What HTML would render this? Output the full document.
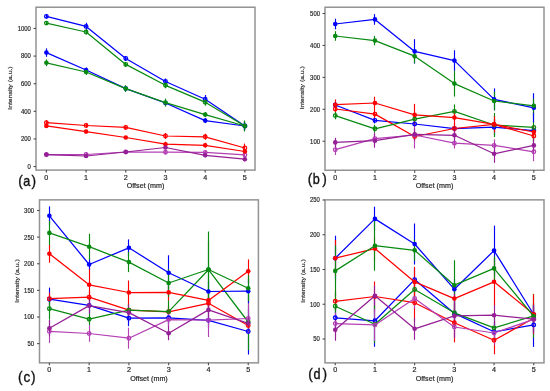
<!DOCTYPE html><html><head><meta charset="utf-8"><style>html,body{margin:0;padding:0;background:#fff;width:550px;height:391px;overflow:hidden}svg{display:block;will-change:transform}text{font-family:"Liberation Sans", sans-serif;stroke:#262626;stroke-width:0.18px}</style></head><body>
<svg width="550" height="391" viewBox="0 0 550 391">
<rect width="550" height="391" fill="#fff"/>
<g><line x1="46.5" y1="14.2" x2="46.5" y2="18.6" stroke="#0000ff" stroke-width="1.15"/><line x1="86.5" y1="22.8" x2="86.5" y2="30" stroke="#0000ff" stroke-width="1.15"/><line x1="125.5" y1="56" x2="125.5" y2="61" stroke="#0000ff" stroke-width="1.15"/><line x1="165.5" y1="78.5" x2="165.5" y2="84.5" stroke="#0000ff" stroke-width="1.15"/><line x1="205.5" y1="95" x2="205.5" y2="103.4" stroke="#0000ff" stroke-width="1.15"/><line x1="244.5" y1="122" x2="244.5" y2="130" stroke="#0000ff" stroke-width="1.15"/><line x1="46.5" y1="120.2" x2="46.5" y2="125.2" stroke="#ff0000" stroke-width="1.15"/><line x1="86.5" y1="123" x2="86.5" y2="128" stroke="#ff0000" stroke-width="1.15"/><line x1="125.5" y1="124.9" x2="125.5" y2="129.9" stroke="#ff0000" stroke-width="1.15"/><line x1="165.5" y1="133" x2="165.5" y2="139" stroke="#ff0000" stroke-width="1.15"/><line x1="205.5" y1="133.8" x2="205.5" y2="139.8" stroke="#ff0000" stroke-width="1.15"/><line x1="244.5" y1="143.6" x2="244.5" y2="152.4" stroke="#ff0000" stroke-width="1.15"/><line x1="46.5" y1="21.1" x2="46.5" y2="25.1" stroke="#088a10" stroke-width="1.15"/><line x1="86.5" y1="29.5" x2="86.5" y2="34.5" stroke="#088a10" stroke-width="1.15"/><line x1="125.5" y1="61.9" x2="125.5" y2="66.9" stroke="#088a10" stroke-width="1.15"/><line x1="165.5" y1="82.3" x2="165.5" y2="88.3" stroke="#088a10" stroke-width="1.15"/><line x1="205.5" y1="98.7" x2="205.5" y2="105.7" stroke="#088a10" stroke-width="1.15"/><line x1="244.5" y1="122" x2="244.5" y2="130" stroke="#088a10" stroke-width="1.15"/><line x1="46.5" y1="152.1" x2="46.5" y2="157.1" stroke="#b440b4" stroke-width="1.15"/><line x1="86.5" y1="152.5" x2="86.5" y2="156.5" stroke="#b440b4" stroke-width="1.15"/><line x1="125.5" y1="150" x2="125.5" y2="154" stroke="#b440b4" stroke-width="1.15"/><line x1="165.5" y1="150.2" x2="165.5" y2="154.2" stroke="#b440b4" stroke-width="1.15"/><line x1="205.5" y1="150.4" x2="205.5" y2="154.4" stroke="#b440b4" stroke-width="1.15"/><line x1="244.5" y1="152.9" x2="244.5" y2="156.9" stroke="#b440b4" stroke-width="1.15"/><line x1="46.5" y1="48.4" x2="46.5" y2="56.8" stroke="#0000ff" stroke-width="1.15"/><line x1="86.5" y1="67.5" x2="86.5" y2="72.5" stroke="#0000ff" stroke-width="1.15"/><line x1="125.5" y1="86.1" x2="125.5" y2="91.1" stroke="#0000ff" stroke-width="1.15"/><line x1="165.5" y1="100" x2="165.5" y2="106" stroke="#0000ff" stroke-width="1.15"/><line x1="205.5" y1="118.1" x2="205.5" y2="123.1" stroke="#0000ff" stroke-width="1.15"/><line x1="244.5" y1="121" x2="244.5" y2="131" stroke="#0000ff" stroke-width="1.15"/><line x1="46.5" y1="124.4" x2="46.5" y2="127.4" stroke="#ff0000" stroke-width="1.15"/><line x1="86.5" y1="130.1" x2="86.5" y2="133.1" stroke="#ff0000" stroke-width="1.15"/><line x1="125.5" y1="136" x2="125.5" y2="139" stroke="#ff0000" stroke-width="1.15"/><line x1="165.5" y1="141.7" x2="165.5" y2="146.7" stroke="#ff0000" stroke-width="1.15"/><line x1="205.5" y1="142.8" x2="205.5" y2="147.8" stroke="#ff0000" stroke-width="1.15"/><line x1="244.5" y1="149" x2="244.5" y2="154" stroke="#ff0000" stroke-width="1.15"/><line x1="46.5" y1="59.4" x2="46.5" y2="66.2" stroke="#088a10" stroke-width="1.15"/><line x1="86.5" y1="69" x2="86.5" y2="75" stroke="#088a10" stroke-width="1.15"/><line x1="125.5" y1="85.2" x2="125.5" y2="92" stroke="#088a10" stroke-width="1.15"/><line x1="165.5" y1="98.6" x2="165.5" y2="106.6" stroke="#088a10" stroke-width="1.15"/><line x1="205.5" y1="112.1" x2="205.5" y2="117.1" stroke="#088a10" stroke-width="1.15"/><line x1="244.5" y1="120.5" x2="244.5" y2="131.5" stroke="#088a10" stroke-width="1.15"/><line x1="46.5" y1="152.6" x2="46.5" y2="156.6" stroke="#951f95" stroke-width="1.15"/><line x1="86.5" y1="154" x2="86.5" y2="158" stroke="#951f95" stroke-width="1.15"/><line x1="125.5" y1="150" x2="125.5" y2="154" stroke="#951f95" stroke-width="1.15"/><line x1="165.5" y1="145.5" x2="165.5" y2="149.5" stroke="#951f95" stroke-width="1.15"/><line x1="205.5" y1="153.3" x2="205.5" y2="157.3" stroke="#951f95" stroke-width="1.15"/><line x1="244.5" y1="157.2" x2="244.5" y2="161.2" stroke="#951f95" stroke-width="1.15"/><polyline points="46.37,16.4 86.07,26.4 125.77,58.5 165.47,81.5 205.17,99.2 244.87,126" fill="none" stroke="#0000ff" stroke-width="1.25" stroke-linejoin="round"/><circle cx="46.37" cy="16.4" r="1.8" fill="none" stroke="#0000ff" stroke-width="1.3"/><circle cx="86.07" cy="26.4" r="1.8" fill="none" stroke="#0000ff" stroke-width="1.3"/><circle cx="125.77" cy="58.5" r="1.8" fill="none" stroke="#0000ff" stroke-width="1.3"/><circle cx="165.47" cy="81.5" r="1.8" fill="none" stroke="#0000ff" stroke-width="1.3"/><circle cx="205.17" cy="99.2" r="1.8" fill="none" stroke="#0000ff" stroke-width="1.3"/><circle cx="244.87" cy="126" r="1.8" fill="none" stroke="#0000ff" stroke-width="1.3"/><polyline points="46.37,122.7 86.07,125.5 125.77,127.4 165.47,136 205.17,136.8 244.87,148" fill="none" stroke="#ff0000" stroke-width="1.25" stroke-linejoin="round"/><circle cx="46.37" cy="122.7" r="1.8" fill="none" stroke="#ff0000" stroke-width="1.3"/><circle cx="86.07" cy="125.5" r="1.8" fill="none" stroke="#ff0000" stroke-width="1.3"/><circle cx="125.77" cy="127.4" r="1.8" fill="none" stroke="#ff0000" stroke-width="1.3"/><circle cx="165.47" cy="136" r="1.8" fill="none" stroke="#ff0000" stroke-width="1.3"/><circle cx="205.17" cy="136.8" r="1.8" fill="none" stroke="#ff0000" stroke-width="1.3"/><circle cx="244.87" cy="148" r="1.8" fill="none" stroke="#ff0000" stroke-width="1.3"/><polyline points="46.37,23.1 86.07,32 125.77,64.4 165.47,85.3 205.17,102.2 244.87,126" fill="none" stroke="#088a10" stroke-width="1.25" stroke-linejoin="round"/><circle cx="46.37" cy="23.1" r="1.8" fill="none" stroke="#088a10" stroke-width="1.3"/><circle cx="86.07" cy="32" r="1.8" fill="none" stroke="#088a10" stroke-width="1.3"/><circle cx="125.77" cy="64.4" r="1.8" fill="none" stroke="#088a10" stroke-width="1.3"/><circle cx="165.47" cy="85.3" r="1.8" fill="none" stroke="#088a10" stroke-width="1.3"/><circle cx="205.17" cy="102.2" r="1.8" fill="none" stroke="#088a10" stroke-width="1.3"/><circle cx="244.87" cy="126" r="1.8" fill="none" stroke="#088a10" stroke-width="1.3"/><polyline points="46.37,154.6 86.07,154.5 125.77,152 165.47,152.2 205.17,152.4 244.87,154.9" fill="none" stroke="#b440b4" stroke-width="1.25" stroke-linejoin="round"/><circle cx="46.37" cy="154.6" r="1.8" fill="none" stroke="#b440b4" stroke-width="1.3"/><circle cx="86.07" cy="154.5" r="1.8" fill="none" stroke="#b440b4" stroke-width="1.3"/><circle cx="125.77" cy="152" r="1.8" fill="none" stroke="#b440b4" stroke-width="1.3"/><circle cx="165.47" cy="152.2" r="1.8" fill="none" stroke="#b440b4" stroke-width="1.3"/><circle cx="205.17" cy="152.4" r="1.8" fill="none" stroke="#b440b4" stroke-width="1.3"/><circle cx="244.87" cy="154.9" r="1.8" fill="none" stroke="#b440b4" stroke-width="1.3"/><polyline points="46.37,52.6 86.07,70 125.77,88.6 165.47,103 205.17,120.6 244.87,126" fill="none" stroke="#0000ff" stroke-width="1.25" stroke-linejoin="round"/><circle cx="46.37" cy="52.6" r="2.3" fill="#0000ff"/><circle cx="86.07" cy="70" r="2.3" fill="#0000ff"/><circle cx="125.77" cy="88.6" r="2.3" fill="#0000ff"/><circle cx="165.47" cy="103" r="2.3" fill="#0000ff"/><circle cx="205.17" cy="120.6" r="2.3" fill="#0000ff"/><circle cx="244.87" cy="126" r="2.3" fill="#0000ff"/><polyline points="46.37,125.9 86.07,131.6 125.77,137.5 165.47,144.2 205.17,145.3 244.87,151.5" fill="none" stroke="#ff0000" stroke-width="1.25" stroke-linejoin="round"/><circle cx="46.37" cy="125.9" r="2.3" fill="#ff0000"/><circle cx="86.07" cy="131.6" r="2.3" fill="#ff0000"/><circle cx="125.77" cy="137.5" r="2.3" fill="#ff0000"/><circle cx="165.47" cy="144.2" r="2.3" fill="#ff0000"/><circle cx="205.17" cy="145.3" r="2.3" fill="#ff0000"/><circle cx="244.87" cy="151.5" r="2.3" fill="#ff0000"/><polyline points="46.37,62.8 86.07,72 125.77,88.6 165.47,102.6 205.17,114.6 244.87,126" fill="none" stroke="#088a10" stroke-width="1.25" stroke-linejoin="round"/><circle cx="46.37" cy="62.8" r="2.3" fill="#088a10"/><circle cx="86.07" cy="72" r="2.3" fill="#088a10"/><circle cx="125.77" cy="88.6" r="2.3" fill="#088a10"/><circle cx="165.47" cy="102.6" r="2.3" fill="#088a10"/><circle cx="205.17" cy="114.6" r="2.3" fill="#088a10"/><circle cx="244.87" cy="126" r="2.3" fill="#088a10"/><polyline points="46.37,154.6 86.07,156 125.77,152 165.47,147.5 205.17,155.3 244.87,159.2" fill="none" stroke="#951f95" stroke-width="1.25" stroke-linejoin="round"/><circle cx="46.37" cy="154.6" r="2.3" fill="#951f95"/><circle cx="86.07" cy="156" r="2.3" fill="#951f95"/><circle cx="125.77" cy="152" r="2.3" fill="#951f95"/><circle cx="165.47" cy="147.5" r="2.3" fill="#951f95"/><circle cx="205.17" cy="155.3" r="2.3" fill="#951f95"/><circle cx="244.87" cy="159.2" r="2.3" fill="#951f95"/></g>
<rect x="36" y="7.24" width="219" height="162.86" fill="none" stroke="#939393" stroke-width="1.5"/>
<line x1="46.37" y1="170.1" x2="46.37" y2="172.5" stroke="#4a4a4a" stroke-width="1.1"/>
<text x="46.37" y="179.6" font-size="6.6" fill="#262626" text-anchor="middle" textLength="4.0" lengthAdjust="spacingAndGlyphs">0</text>
<line x1="86.07" y1="170.1" x2="86.07" y2="172.5" stroke="#4a4a4a" stroke-width="1.1"/>
<text x="86.07" y="179.6" font-size="6.6" fill="#262626" text-anchor="middle" textLength="4.0" lengthAdjust="spacingAndGlyphs">1</text>
<line x1="125.77" y1="170.1" x2="125.77" y2="172.5" stroke="#4a4a4a" stroke-width="1.1"/>
<text x="125.77" y="179.6" font-size="6.6" fill="#262626" text-anchor="middle" textLength="4.0" lengthAdjust="spacingAndGlyphs">2</text>
<line x1="165.47" y1="170.1" x2="165.47" y2="172.5" stroke="#4a4a4a" stroke-width="1.1"/>
<text x="165.47" y="179.6" font-size="6.6" fill="#262626" text-anchor="middle" textLength="4.0" lengthAdjust="spacingAndGlyphs">3</text>
<line x1="205.17" y1="170.1" x2="205.17" y2="172.5" stroke="#4a4a4a" stroke-width="1.1"/>
<text x="205.17" y="179.6" font-size="6.6" fill="#262626" text-anchor="middle" textLength="4.0" lengthAdjust="spacingAndGlyphs">4</text>
<line x1="244.87" y1="170.1" x2="244.87" y2="172.5" stroke="#4a4a4a" stroke-width="1.1"/>
<text x="244.87" y="179.6" font-size="6.6" fill="#262626" text-anchor="middle" textLength="4.0" lengthAdjust="spacingAndGlyphs">5</text>
<line x1="33.6" y1="166.55" x2="36" y2="166.55" stroke="#4a4a4a" stroke-width="1.1"/>
<text x="30.9" y="168.95" font-size="6.6" fill="#262626" text-anchor="end" textLength="3.3" lengthAdjust="spacingAndGlyphs">0</text>
<line x1="33.6" y1="138.94" x2="36" y2="138.94" stroke="#4a4a4a" stroke-width="1.1"/>
<text x="30.9" y="141.34" font-size="6.6" fill="#262626" text-anchor="end" textLength="9.9" lengthAdjust="spacingAndGlyphs">200</text>
<line x1="33.6" y1="111.32" x2="36" y2="111.32" stroke="#4a4a4a" stroke-width="1.1"/>
<text x="30.9" y="113.72" font-size="6.6" fill="#262626" text-anchor="end" textLength="9.9" lengthAdjust="spacingAndGlyphs">400</text>
<line x1="33.6" y1="83.71" x2="36" y2="83.71" stroke="#4a4a4a" stroke-width="1.1"/>
<text x="30.9" y="86.11" font-size="6.6" fill="#262626" text-anchor="end" textLength="9.9" lengthAdjust="spacingAndGlyphs">600</text>
<line x1="33.6" y1="56.09" x2="36" y2="56.09" stroke="#4a4a4a" stroke-width="1.1"/>
<text x="30.9" y="58.49" font-size="6.6" fill="#262626" text-anchor="end" textLength="9.9" lengthAdjust="spacingAndGlyphs">800</text>
<line x1="33.6" y1="28.48" x2="36" y2="28.48" stroke="#4a4a4a" stroke-width="1.1"/>
<text x="30.9" y="30.88" font-size="6.6" fill="#262626" text-anchor="end" textLength="13.2" lengthAdjust="spacingAndGlyphs">1000</text>
<text x="145.5" y="188.1" font-size="6.7" fill="#262626" text-anchor="middle" textLength="37.6" lengthAdjust="spacingAndGlyphs">Offset (mm)</text>
<text transform="translate(12.1,88.07) rotate(-90)" font-size="6.2" fill="#262626" text-anchor="middle" textLength="43.4" lengthAdjust="spacingAndGlyphs">Intensity (a.u.)</text>
<text transform="translate(18.25,185.7) scale(0.9,1)" font-size="15.2" fill="#111" style="stroke:#111;stroke-width:0.35px">(<tspan font-size="14" dx="0.5">a</tspan><tspan dx="1.3">)</tspan></text>
<g><line x1="335.5" y1="102" x2="335.5" y2="108" stroke="#0000ff" stroke-width="1.15"/><line x1="374.5" y1="117.4" x2="374.5" y2="123.4" stroke="#0000ff" stroke-width="1.15"/><line x1="414.5" y1="121" x2="414.5" y2="127" stroke="#0000ff" stroke-width="1.15"/><line x1="454.5" y1="125.6" x2="454.5" y2="131.6" stroke="#0000ff" stroke-width="1.15"/><line x1="494.5" y1="119.2" x2="494.5" y2="135.2" stroke="#0000ff" stroke-width="1.15"/><line x1="533.5" y1="126.6" x2="533.5" y2="134.6" stroke="#0000ff" stroke-width="1.15"/><line x1="335.5" y1="104" x2="335.5" y2="114" stroke="#ff0000" stroke-width="1.15"/><line x1="374.5" y1="109.1" x2="374.5" y2="119.1" stroke="#ff0000" stroke-width="1.15"/><line x1="414.5" y1="131.5" x2="414.5" y2="141.5" stroke="#ff0000" stroke-width="1.15"/><line x1="454.5" y1="123.5" x2="454.5" y2="133.5" stroke="#ff0000" stroke-width="1.15"/><line x1="494.5" y1="119.4" x2="494.5" y2="129.4" stroke="#ff0000" stroke-width="1.15"/><line x1="533.5" y1="131" x2="533.5" y2="141" stroke="#ff0000" stroke-width="1.15"/><line x1="335.5" y1="111.9" x2="335.5" y2="119.3" stroke="#088a10" stroke-width="1.15"/><line x1="374.5" y1="124.8" x2="374.5" y2="132.8" stroke="#088a10" stroke-width="1.15"/><line x1="414.5" y1="115.1" x2="414.5" y2="123.1" stroke="#088a10" stroke-width="1.15"/><line x1="454.5" y1="104.4" x2="454.5" y2="118.4" stroke="#088a10" stroke-width="1.15"/><line x1="494.5" y1="113" x2="494.5" y2="137" stroke="#088a10" stroke-width="1.15"/><line x1="533.5" y1="112.4" x2="533.5" y2="142.4" stroke="#088a10" stroke-width="1.15"/><line x1="335.5" y1="144.4" x2="335.5" y2="155" stroke="#b440b4" stroke-width="1.15"/><line x1="374.5" y1="132.6" x2="374.5" y2="144.6" stroke="#b440b4" stroke-width="1.15"/><line x1="414.5" y1="121.5" x2="414.5" y2="148.5" stroke="#b440b4" stroke-width="1.15"/><line x1="454.5" y1="137.9" x2="454.5" y2="148.5" stroke="#b440b4" stroke-width="1.15"/><line x1="494.5" y1="139.4" x2="494.5" y2="151.4" stroke="#b440b4" stroke-width="1.15"/><line x1="533.5" y1="142.4" x2="533.5" y2="161.2" stroke="#b440b4" stroke-width="1.15"/><line x1="335.5" y1="18.7" x2="335.5" y2="29.3" stroke="#0000ff" stroke-width="1.15"/><line x1="374.5" y1="14.1" x2="374.5" y2="24.7" stroke="#0000ff" stroke-width="1.15"/><line x1="414.5" y1="39.2" x2="414.5" y2="63.6" stroke="#0000ff" stroke-width="1.15"/><line x1="454.5" y1="50.3" x2="454.5" y2="70.9" stroke="#0000ff" stroke-width="1.15"/><line x1="494.5" y1="88.4" x2="494.5" y2="110.4" stroke="#0000ff" stroke-width="1.15"/><line x1="533.5" y1="93.2" x2="533.5" y2="122.4" stroke="#0000ff" stroke-width="1.15"/><line x1="335.5" y1="99.4" x2="335.5" y2="110" stroke="#ff0000" stroke-width="1.15"/><line x1="374.5" y1="96.7" x2="374.5" y2="109.3" stroke="#ff0000" stroke-width="1.15"/><line x1="414.5" y1="103.9" x2="414.5" y2="125.9" stroke="#ff0000" stroke-width="1.15"/><line x1="454.5" y1="109.6" x2="454.5" y2="125.6" stroke="#ff0000" stroke-width="1.15"/><line x1="494.5" y1="116.4" x2="494.5" y2="132.4" stroke="#ff0000" stroke-width="1.15"/><line x1="533.5" y1="126" x2="533.5" y2="138" stroke="#ff0000" stroke-width="1.15"/><line x1="335.5" y1="31.2" x2="335.5" y2="40.8" stroke="#088a10" stroke-width="1.15"/><line x1="374.5" y1="35.9" x2="374.5" y2="45.3" stroke="#088a10" stroke-width="1.15"/><line x1="414.5" y1="49.2" x2="414.5" y2="63.2" stroke="#088a10" stroke-width="1.15"/><line x1="454.5" y1="70.6" x2="454.5" y2="96.6" stroke="#088a10" stroke-width="1.15"/><line x1="494.5" y1="91.7" x2="494.5" y2="110.3" stroke="#088a10" stroke-width="1.15"/><line x1="533.5" y1="98.8" x2="533.5" y2="112.8" stroke="#088a10" stroke-width="1.15"/><line x1="335.5" y1="137.8" x2="335.5" y2="147" stroke="#951f95" stroke-width="1.15"/><line x1="374.5" y1="133.7" x2="374.5" y2="147.7" stroke="#951f95" stroke-width="1.15"/><line x1="414.5" y1="128.4" x2="414.5" y2="140.4" stroke="#951f95" stroke-width="1.15"/><line x1="454.5" y1="128.3" x2="454.5" y2="142.3" stroke="#951f95" stroke-width="1.15"/><line x1="494.5" y1="144.8" x2="494.5" y2="162.8" stroke="#951f95" stroke-width="1.15"/><line x1="533.5" y1="138.4" x2="533.5" y2="152.4" stroke="#951f95" stroke-width="1.15"/><polyline points="335.24,105 374.96,120.4 414.68,124 454.4,128.6 494.12,127.2 533.84,130.6" fill="none" stroke="#0000ff" stroke-width="1.25" stroke-linejoin="round"/><circle cx="335.24" cy="105" r="1.8" fill="none" stroke="#0000ff" stroke-width="1.3"/><circle cx="374.96" cy="120.4" r="1.8" fill="none" stroke="#0000ff" stroke-width="1.3"/><circle cx="414.68" cy="124" r="1.8" fill="none" stroke="#0000ff" stroke-width="1.3"/><circle cx="454.4" cy="128.6" r="1.8" fill="none" stroke="#0000ff" stroke-width="1.3"/><circle cx="494.12" cy="127.2" r="1.8" fill="none" stroke="#0000ff" stroke-width="1.3"/><circle cx="533.84" cy="130.6" r="1.8" fill="none" stroke="#0000ff" stroke-width="1.3"/><polyline points="335.24,109 374.96,114.1 414.68,136.5 454.4,128.5 494.12,124.4 533.84,136" fill="none" stroke="#ff0000" stroke-width="1.25" stroke-linejoin="round"/><circle cx="335.24" cy="109" r="1.8" fill="none" stroke="#ff0000" stroke-width="1.3"/><circle cx="374.96" cy="114.1" r="1.8" fill="none" stroke="#ff0000" stroke-width="1.3"/><circle cx="414.68" cy="136.5" r="1.8" fill="none" stroke="#ff0000" stroke-width="1.3"/><circle cx="454.4" cy="128.5" r="1.8" fill="none" stroke="#ff0000" stroke-width="1.3"/><circle cx="494.12" cy="124.4" r="1.8" fill="none" stroke="#ff0000" stroke-width="1.3"/><circle cx="533.84" cy="136" r="1.8" fill="none" stroke="#ff0000" stroke-width="1.3"/><polyline points="335.24,115.6 374.96,128.8 414.68,119.1 454.4,111.4 494.12,125 533.84,127.4" fill="none" stroke="#088a10" stroke-width="1.25" stroke-linejoin="round"/><circle cx="335.24" cy="115.6" r="1.8" fill="none" stroke="#088a10" stroke-width="1.3"/><circle cx="374.96" cy="128.8" r="1.8" fill="none" stroke="#088a10" stroke-width="1.3"/><circle cx="414.68" cy="119.1" r="1.8" fill="none" stroke="#088a10" stroke-width="1.3"/><circle cx="454.4" cy="111.4" r="1.8" fill="none" stroke="#088a10" stroke-width="1.3"/><circle cx="494.12" cy="125" r="1.8" fill="none" stroke="#088a10" stroke-width="1.3"/><circle cx="533.84" cy="127.4" r="1.8" fill="none" stroke="#088a10" stroke-width="1.3"/><polyline points="335.24,149.7 374.96,138.6 414.68,135 454.4,143.2 494.12,145.4 533.84,151.8" fill="none" stroke="#b440b4" stroke-width="1.25" stroke-linejoin="round"/><circle cx="335.24" cy="149.7" r="1.8" fill="none" stroke="#b440b4" stroke-width="1.3"/><circle cx="374.96" cy="138.6" r="1.8" fill="none" stroke="#b440b4" stroke-width="1.3"/><circle cx="414.68" cy="135" r="1.8" fill="none" stroke="#b440b4" stroke-width="1.3"/><circle cx="454.4" cy="143.2" r="1.8" fill="none" stroke="#b440b4" stroke-width="1.3"/><circle cx="494.12" cy="145.4" r="1.8" fill="none" stroke="#b440b4" stroke-width="1.3"/><circle cx="533.84" cy="151.8" r="1.8" fill="none" stroke="#b440b4" stroke-width="1.3"/><polyline points="335.24,24 374.96,19.4 414.68,51.4 454.4,60.6 494.12,99.4 533.84,107.8" fill="none" stroke="#0000ff" stroke-width="1.25" stroke-linejoin="round"/><circle cx="335.24" cy="24" r="2.3" fill="#0000ff"/><circle cx="374.96" cy="19.4" r="2.3" fill="#0000ff"/><circle cx="414.68" cy="51.4" r="2.3" fill="#0000ff"/><circle cx="454.4" cy="60.6" r="2.3" fill="#0000ff"/><circle cx="494.12" cy="99.4" r="2.3" fill="#0000ff"/><circle cx="533.84" cy="107.8" r="2.3" fill="#0000ff"/><polyline points="335.24,104.7 374.96,103 414.68,114.9 454.4,117.6 494.12,124.4 533.84,132" fill="none" stroke="#ff0000" stroke-width="1.25" stroke-linejoin="round"/><circle cx="335.24" cy="104.7" r="2.3" fill="#ff0000"/><circle cx="374.96" cy="103" r="2.3" fill="#ff0000"/><circle cx="414.68" cy="114.9" r="2.3" fill="#ff0000"/><circle cx="454.4" cy="117.6" r="2.3" fill="#ff0000"/><circle cx="494.12" cy="124.4" r="2.3" fill="#ff0000"/><circle cx="533.84" cy="132" r="2.3" fill="#ff0000"/><polyline points="335.24,36 374.96,40.6 414.68,56.2 454.4,83.6 494.12,101 533.84,105.8" fill="none" stroke="#088a10" stroke-width="1.25" stroke-linejoin="round"/><circle cx="335.24" cy="36" r="2.3" fill="#088a10"/><circle cx="374.96" cy="40.6" r="2.3" fill="#088a10"/><circle cx="414.68" cy="56.2" r="2.3" fill="#088a10"/><circle cx="454.4" cy="83.6" r="2.3" fill="#088a10"/><circle cx="494.12" cy="101" r="2.3" fill="#088a10"/><circle cx="533.84" cy="105.8" r="2.3" fill="#088a10"/><polyline points="335.24,142.4 374.96,140.7 414.68,134.4 454.4,135.3 494.12,153.8 533.84,145.4" fill="none" stroke="#951f95" stroke-width="1.25" stroke-linejoin="round"/><circle cx="335.24" cy="142.4" r="2.3" fill="#951f95"/><circle cx="374.96" cy="140.7" r="2.3" fill="#951f95"/><circle cx="414.68" cy="134.4" r="2.3" fill="#951f95"/><circle cx="454.4" cy="135.3" r="2.3" fill="#951f95"/><circle cx="494.12" cy="153.8" r="2.3" fill="#951f95"/><circle cx="533.84" cy="145.4" r="2.3" fill="#951f95"/></g>
<rect x="325" y="7.24" width="219" height="163" fill="none" stroke="#939393" stroke-width="1.5"/>
<line x1="335.24" y1="170.24" x2="335.24" y2="172.64" stroke="#4a4a4a" stroke-width="1.1"/>
<text x="335.24" y="179.74" font-size="6.6" fill="#262626" text-anchor="middle" textLength="4.0" lengthAdjust="spacingAndGlyphs">0</text>
<line x1="374.96" y1="170.24" x2="374.96" y2="172.64" stroke="#4a4a4a" stroke-width="1.1"/>
<text x="374.96" y="179.74" font-size="6.6" fill="#262626" text-anchor="middle" textLength="4.0" lengthAdjust="spacingAndGlyphs">1</text>
<line x1="414.68" y1="170.24" x2="414.68" y2="172.64" stroke="#4a4a4a" stroke-width="1.1"/>
<text x="414.68" y="179.74" font-size="6.6" fill="#262626" text-anchor="middle" textLength="4.0" lengthAdjust="spacingAndGlyphs">2</text>
<line x1="454.4" y1="170.24" x2="454.4" y2="172.64" stroke="#4a4a4a" stroke-width="1.1"/>
<text x="454.4" y="179.74" font-size="6.6" fill="#262626" text-anchor="middle" textLength="4.0" lengthAdjust="spacingAndGlyphs">3</text>
<line x1="494.12" y1="170.24" x2="494.12" y2="172.64" stroke="#4a4a4a" stroke-width="1.1"/>
<text x="494.12" y="179.74" font-size="6.6" fill="#262626" text-anchor="middle" textLength="4.0" lengthAdjust="spacingAndGlyphs">4</text>
<line x1="533.84" y1="170.24" x2="533.84" y2="172.64" stroke="#4a4a4a" stroke-width="1.1"/>
<text x="533.84" y="179.74" font-size="6.6" fill="#262626" text-anchor="middle" textLength="4.0" lengthAdjust="spacingAndGlyphs">5</text>
<line x1="322.6" y1="141.24" x2="325" y2="141.24" stroke="#4a4a4a" stroke-width="1.1"/>
<text x="320" y="143.64" font-size="6.6" fill="#262626" text-anchor="end" textLength="9.9" lengthAdjust="spacingAndGlyphs">100</text>
<line x1="322.6" y1="109.31" x2="325" y2="109.31" stroke="#4a4a4a" stroke-width="1.1"/>
<text x="320" y="111.71" font-size="6.6" fill="#262626" text-anchor="end" textLength="9.9" lengthAdjust="spacingAndGlyphs">200</text>
<line x1="322.6" y1="77.37" x2="325" y2="77.37" stroke="#4a4a4a" stroke-width="1.1"/>
<text x="320" y="79.77" font-size="6.6" fill="#262626" text-anchor="end" textLength="9.9" lengthAdjust="spacingAndGlyphs">300</text>
<line x1="322.6" y1="45.44" x2="325" y2="45.44" stroke="#4a4a4a" stroke-width="1.1"/>
<text x="320" y="47.84" font-size="6.6" fill="#262626" text-anchor="end" textLength="9.9" lengthAdjust="spacingAndGlyphs">400</text>
<line x1="322.6" y1="13.5" x2="325" y2="13.5" stroke="#4a4a4a" stroke-width="1.1"/>
<text x="320" y="15.9" font-size="6.6" fill="#262626" text-anchor="end" textLength="9.9" lengthAdjust="spacingAndGlyphs">500</text>
<text x="434.5" y="188.24" font-size="6.7" fill="#262626" text-anchor="middle" textLength="37.6" lengthAdjust="spacingAndGlyphs">Offset (mm)</text>
<text transform="translate(303.6,87.84) rotate(-90)" font-size="6.2" fill="#262626" text-anchor="middle" textLength="43.4" lengthAdjust="spacingAndGlyphs">Intensity (a.u.)</text>
<text transform="translate(307.85,184.3) scale(0.9,1)" font-size="15.2" fill="#111" style="stroke:#111;stroke-width:0.35px">(<tspan font-size="14" dx="0.5">b</tspan><tspan dx="2.6">)</tspan></text>
<g><line x1="49.5" y1="287.6" x2="49.5" y2="310.8" stroke="#0000ff" stroke-width="1.15"/><line x1="89.5" y1="297.4" x2="89.5" y2="313.4" stroke="#0000ff" stroke-width="1.15"/><line x1="128.5" y1="310.2" x2="128.5" y2="326.2" stroke="#0000ff" stroke-width="1.15"/><line x1="168.5" y1="309.8" x2="168.5" y2="325.8" stroke="#0000ff" stroke-width="1.15"/><line x1="208.5" y1="312.3" x2="208.5" y2="328.3" stroke="#0000ff" stroke-width="1.15"/><line x1="248.5" y1="308.5" x2="248.5" y2="354.5" stroke="#0000ff" stroke-width="1.15"/><line x1="49.5" y1="292.7" x2="49.5" y2="304.7" stroke="#ff0000" stroke-width="1.15"/><line x1="89.5" y1="291.2" x2="89.5" y2="303.2" stroke="#ff0000" stroke-width="1.15"/><line x1="128.5" y1="304.2" x2="128.5" y2="316.2" stroke="#ff0000" stroke-width="1.15"/><line x1="168.5" y1="305.8" x2="168.5" y2="317.8" stroke="#ff0000" stroke-width="1.15"/><line x1="208.5" y1="297.3" x2="208.5" y2="309.3" stroke="#ff0000" stroke-width="1.15"/><line x1="248.5" y1="319.5" x2="248.5" y2="331.5" stroke="#ff0000" stroke-width="1.15"/><line x1="49.5" y1="297.7" x2="49.5" y2="319.7" stroke="#088a10" stroke-width="1.15"/><line x1="89.5" y1="313.2" x2="89.5" y2="325.2" stroke="#088a10" stroke-width="1.15"/><line x1="128.5" y1="304.2" x2="128.5" y2="316.2" stroke="#088a10" stroke-width="1.15"/><line x1="168.5" y1="299.6" x2="168.5" y2="323.6" stroke="#088a10" stroke-width="1.15"/><line x1="208.5" y1="240.7" x2="208.5" y2="298.7" stroke="#088a10" stroke-width="1.15"/><line x1="248.5" y1="294" x2="248.5" y2="350" stroke="#088a10" stroke-width="1.15"/><line x1="49.5" y1="319.9" x2="49.5" y2="342.9" stroke="#b440b4" stroke-width="1.15"/><line x1="89.5" y1="325.2" x2="89.5" y2="341.8" stroke="#b440b4" stroke-width="1.15"/><line x1="128.5" y1="327.7" x2="128.5" y2="348.7" stroke="#b440b4" stroke-width="1.15"/><line x1="168.5" y1="311.6" x2="168.5" y2="327.6" stroke="#b440b4" stroke-width="1.15"/><line x1="208.5" y1="303.4" x2="208.5" y2="337" stroke="#b440b4" stroke-width="1.15"/><line x1="248.5" y1="303" x2="248.5" y2="334" stroke="#b440b4" stroke-width="1.15"/><line x1="49.5" y1="206.4" x2="49.5" y2="225.2" stroke="#0000ff" stroke-width="1.15"/><line x1="89.5" y1="258.5" x2="89.5" y2="270.5" stroke="#0000ff" stroke-width="1.15"/><line x1="128.5" y1="239.4" x2="128.5" y2="256.2" stroke="#0000ff" stroke-width="1.15"/><line x1="168.5" y1="255.3" x2="168.5" y2="290.1" stroke="#0000ff" stroke-width="1.15"/><line x1="208.5" y1="281.5" x2="208.5" y2="301.5" stroke="#0000ff" stroke-width="1.15"/><line x1="248.5" y1="279.2" x2="248.5" y2="303.2" stroke="#0000ff" stroke-width="1.15"/><line x1="49.5" y1="244.7" x2="49.5" y2="262.7" stroke="#ff0000" stroke-width="1.15"/><line x1="89.5" y1="269.1" x2="89.5" y2="300.5" stroke="#ff0000" stroke-width="1.15"/><line x1="128.5" y1="280.5" x2="128.5" y2="304.5" stroke="#ff0000" stroke-width="1.15"/><line x1="168.5" y1="284.4" x2="168.5" y2="300.4" stroke="#ff0000" stroke-width="1.15"/><line x1="208.5" y1="292.4" x2="208.5" y2="308.4" stroke="#ff0000" stroke-width="1.15"/><line x1="248.5" y1="259.4" x2="248.5" y2="283" stroke="#ff0000" stroke-width="1.15"/><line x1="49.5" y1="220.9" x2="49.5" y2="244.9" stroke="#088a10" stroke-width="1.15"/><line x1="89.5" y1="233.7" x2="89.5" y2="259.7" stroke="#088a10" stroke-width="1.15"/><line x1="128.5" y1="252.1" x2="128.5" y2="272.1" stroke="#088a10" stroke-width="1.15"/><line x1="168.5" y1="269" x2="168.5" y2="297" stroke="#088a10" stroke-width="1.15"/><line x1="208.5" y1="231.5" x2="208.5" y2="307.5" stroke="#088a10" stroke-width="1.15"/><line x1="248.5" y1="275.2" x2="248.5" y2="301.2" stroke="#088a10" stroke-width="1.15"/><line x1="49.5" y1="320.2" x2="49.5" y2="336.2" stroke="#951f95" stroke-width="1.15"/><line x1="89.5" y1="297.6" x2="89.5" y2="313.6" stroke="#951f95" stroke-width="1.15"/><line x1="128.5" y1="304.6" x2="128.5" y2="320.6" stroke="#951f95" stroke-width="1.15"/><line x1="168.5" y1="326.2" x2="168.5" y2="340.2" stroke="#951f95" stroke-width="1.15"/><line x1="208.5" y1="301.9" x2="208.5" y2="317.9" stroke="#951f95" stroke-width="1.15"/><line x1="248.5" y1="315.3" x2="248.5" y2="331.3" stroke="#951f95" stroke-width="1.15"/><polyline points="49.37,299.2 89.14,305.4 128.91,318.2 168.68,317.8 208.45,320.3 248.22,331.5" fill="none" stroke="#0000ff" stroke-width="1.25" stroke-linejoin="round"/><circle cx="49.37" cy="299.2" r="1.8" fill="none" stroke="#0000ff" stroke-width="1.3"/><circle cx="89.14" cy="305.4" r="1.8" fill="none" stroke="#0000ff" stroke-width="1.3"/><circle cx="128.91" cy="318.2" r="1.8" fill="none" stroke="#0000ff" stroke-width="1.3"/><circle cx="168.68" cy="317.8" r="1.8" fill="none" stroke="#0000ff" stroke-width="1.3"/><circle cx="208.45" cy="320.3" r="1.8" fill="none" stroke="#0000ff" stroke-width="1.3"/><circle cx="248.22" cy="331.5" r="1.8" fill="none" stroke="#0000ff" stroke-width="1.3"/><polyline points="49.37,298.7 89.14,297.2 128.91,310.2 168.68,311.8 208.45,303.3 248.22,325.5" fill="none" stroke="#ff0000" stroke-width="1.25" stroke-linejoin="round"/><circle cx="49.37" cy="298.7" r="1.8" fill="none" stroke="#ff0000" stroke-width="1.3"/><circle cx="89.14" cy="297.2" r="1.8" fill="none" stroke="#ff0000" stroke-width="1.3"/><circle cx="128.91" cy="310.2" r="1.8" fill="none" stroke="#ff0000" stroke-width="1.3"/><circle cx="168.68" cy="311.8" r="1.8" fill="none" stroke="#ff0000" stroke-width="1.3"/><circle cx="208.45" cy="303.3" r="1.8" fill="none" stroke="#ff0000" stroke-width="1.3"/><circle cx="248.22" cy="325.5" r="1.8" fill="none" stroke="#ff0000" stroke-width="1.3"/><polyline points="49.37,308.7 89.14,319.2 128.91,310.2 168.68,311.6 208.45,269.7 248.22,322" fill="none" stroke="#088a10" stroke-width="1.25" stroke-linejoin="round"/><circle cx="49.37" cy="308.7" r="1.8" fill="none" stroke="#088a10" stroke-width="1.3"/><circle cx="89.14" cy="319.2" r="1.8" fill="none" stroke="#088a10" stroke-width="1.3"/><circle cx="128.91" cy="310.2" r="1.8" fill="none" stroke="#088a10" stroke-width="1.3"/><circle cx="168.68" cy="311.6" r="1.8" fill="none" stroke="#088a10" stroke-width="1.3"/><circle cx="208.45" cy="269.7" r="1.8" fill="none" stroke="#088a10" stroke-width="1.3"/><circle cx="248.22" cy="322" r="1.8" fill="none" stroke="#088a10" stroke-width="1.3"/><polyline points="49.37,331.4 89.14,333.5 128.91,338.2 168.68,319.6 208.45,320.2 248.22,318.5" fill="none" stroke="#b440b4" stroke-width="1.25" stroke-linejoin="round"/><circle cx="49.37" cy="331.4" r="1.8" fill="none" stroke="#b440b4" stroke-width="1.3"/><circle cx="89.14" cy="333.5" r="1.8" fill="none" stroke="#b440b4" stroke-width="1.3"/><circle cx="128.91" cy="338.2" r="1.8" fill="none" stroke="#b440b4" stroke-width="1.3"/><circle cx="168.68" cy="319.6" r="1.8" fill="none" stroke="#b440b4" stroke-width="1.3"/><circle cx="208.45" cy="320.2" r="1.8" fill="none" stroke="#b440b4" stroke-width="1.3"/><circle cx="248.22" cy="318.5" r="1.8" fill="none" stroke="#b440b4" stroke-width="1.3"/><polyline points="49.37,215.8 89.14,264.5 128.91,247.8 168.68,272.7 208.45,291.5 248.22,291.2" fill="none" stroke="#0000ff" stroke-width="1.25" stroke-linejoin="round"/><circle cx="49.37" cy="215.8" r="2.3" fill="#0000ff"/><circle cx="89.14" cy="264.5" r="2.3" fill="#0000ff"/><circle cx="128.91" cy="247.8" r="2.3" fill="#0000ff"/><circle cx="168.68" cy="272.7" r="2.3" fill="#0000ff"/><circle cx="208.45" cy="291.5" r="2.3" fill="#0000ff"/><circle cx="248.22" cy="291.2" r="2.3" fill="#0000ff"/><polyline points="49.37,253.7 89.14,284.8 128.91,292.5 168.68,292.4 208.45,300.4 248.22,271.2" fill="none" stroke="#ff0000" stroke-width="1.25" stroke-linejoin="round"/><circle cx="49.37" cy="253.7" r="2.3" fill="#ff0000"/><circle cx="89.14" cy="284.8" r="2.3" fill="#ff0000"/><circle cx="128.91" cy="292.5" r="2.3" fill="#ff0000"/><circle cx="168.68" cy="292.4" r="2.3" fill="#ff0000"/><circle cx="208.45" cy="300.4" r="2.3" fill="#ff0000"/><circle cx="248.22" cy="271.2" r="2.3" fill="#ff0000"/><polyline points="49.37,232.9 89.14,246.7 128.91,262.1 168.68,283 208.45,269.5 248.22,288.2" fill="none" stroke="#088a10" stroke-width="1.25" stroke-linejoin="round"/><circle cx="49.37" cy="232.9" r="2.3" fill="#088a10"/><circle cx="89.14" cy="246.7" r="2.3" fill="#088a10"/><circle cx="128.91" cy="262.1" r="2.3" fill="#088a10"/><circle cx="168.68" cy="283" r="2.3" fill="#088a10"/><circle cx="208.45" cy="269.5" r="2.3" fill="#088a10"/><circle cx="248.22" cy="288.2" r="2.3" fill="#088a10"/><polyline points="49.37,328.2 89.14,305.6 128.91,312.6 168.68,333.2 208.45,309.9 248.22,323.3" fill="none" stroke="#951f95" stroke-width="1.25" stroke-linejoin="round"/><circle cx="49.37" cy="328.2" r="2.3" fill="#951f95"/><circle cx="89.14" cy="305.6" r="2.3" fill="#951f95"/><circle cx="128.91" cy="312.6" r="2.3" fill="#951f95"/><circle cx="168.68" cy="333.2" r="2.3" fill="#951f95"/><circle cx="208.45" cy="309.9" r="2.3" fill="#951f95"/><circle cx="248.22" cy="323.3" r="2.3" fill="#951f95"/></g>
<rect x="39.5" y="199.86" width="218.9" height="163" fill="none" stroke="#939393" stroke-width="1.5"/>
<line x1="49.37" y1="362.86" x2="49.37" y2="365.26" stroke="#4a4a4a" stroke-width="1.1"/>
<text x="49.37" y="372.36" font-size="6.6" fill="#262626" text-anchor="middle" textLength="4.0" lengthAdjust="spacingAndGlyphs">0</text>
<line x1="89.14" y1="362.86" x2="89.14" y2="365.26" stroke="#4a4a4a" stroke-width="1.1"/>
<text x="89.14" y="372.36" font-size="6.6" fill="#262626" text-anchor="middle" textLength="4.0" lengthAdjust="spacingAndGlyphs">1</text>
<line x1="128.91" y1="362.86" x2="128.91" y2="365.26" stroke="#4a4a4a" stroke-width="1.1"/>
<text x="128.91" y="372.36" font-size="6.6" fill="#262626" text-anchor="middle" textLength="4.0" lengthAdjust="spacingAndGlyphs">2</text>
<line x1="168.68" y1="362.86" x2="168.68" y2="365.26" stroke="#4a4a4a" stroke-width="1.1"/>
<text x="168.68" y="372.36" font-size="6.6" fill="#262626" text-anchor="middle" textLength="4.0" lengthAdjust="spacingAndGlyphs">3</text>
<line x1="208.45" y1="362.86" x2="208.45" y2="365.26" stroke="#4a4a4a" stroke-width="1.1"/>
<text x="208.45" y="372.36" font-size="6.6" fill="#262626" text-anchor="middle" textLength="4.0" lengthAdjust="spacingAndGlyphs">4</text>
<line x1="248.22" y1="362.86" x2="248.22" y2="365.26" stroke="#4a4a4a" stroke-width="1.1"/>
<text x="248.22" y="372.36" font-size="6.6" fill="#262626" text-anchor="middle" textLength="4.0" lengthAdjust="spacingAndGlyphs">5</text>
<line x1="37.1" y1="343.6" x2="39.5" y2="343.6" stroke="#4a4a4a" stroke-width="1.1"/>
<text x="34" y="346" font-size="6.6" fill="#262626" text-anchor="end" textLength="6.6" lengthAdjust="spacingAndGlyphs">50</text>
<line x1="37.1" y1="316.98" x2="39.5" y2="316.98" stroke="#4a4a4a" stroke-width="1.1"/>
<text x="34" y="319.38" font-size="6.6" fill="#262626" text-anchor="end" textLength="9.9" lengthAdjust="spacingAndGlyphs">100</text>
<line x1="37.1" y1="290.36" x2="39.5" y2="290.36" stroke="#4a4a4a" stroke-width="1.1"/>
<text x="34" y="292.76" font-size="6.6" fill="#262626" text-anchor="end" textLength="9.9" lengthAdjust="spacingAndGlyphs">150</text>
<line x1="37.1" y1="263.74" x2="39.5" y2="263.74" stroke="#4a4a4a" stroke-width="1.1"/>
<text x="34" y="266.14" font-size="6.6" fill="#262626" text-anchor="end" textLength="9.9" lengthAdjust="spacingAndGlyphs">200</text>
<line x1="37.1" y1="237.12" x2="39.5" y2="237.12" stroke="#4a4a4a" stroke-width="1.1"/>
<text x="34" y="239.52" font-size="6.6" fill="#262626" text-anchor="end" textLength="9.9" lengthAdjust="spacingAndGlyphs">250</text>
<line x1="37.1" y1="210.5" x2="39.5" y2="210.5" stroke="#4a4a4a" stroke-width="1.1"/>
<text x="34" y="212.9" font-size="6.6" fill="#262626" text-anchor="end" textLength="9.9" lengthAdjust="spacingAndGlyphs">300</text>
<text x="148.95" y="380.86" font-size="6.7" fill="#262626" text-anchor="middle" textLength="37.6" lengthAdjust="spacingAndGlyphs">Offset (mm)</text>
<text transform="translate(18.6,280.96) rotate(-90)" font-size="6.2" fill="#262626" text-anchor="middle" textLength="43.4" lengthAdjust="spacingAndGlyphs">Intensity (a.u.)</text>
<text transform="translate(18.05,382.3) scale(0.9,1)" font-size="15.2" fill="#111" style="stroke:#111;stroke-width:0.35px">(<tspan font-size="15" dx="1.1">c</tspan><tspan dx="0.7">)</tspan></text>
<g><line x1="335.5" y1="307.8" x2="335.5" y2="327.8" stroke="#0000ff" stroke-width="1.15"/><line x1="374.5" y1="294.8" x2="374.5" y2="346.8" stroke="#0000ff" stroke-width="1.15"/><line x1="414.5" y1="267.6" x2="414.5" y2="291.6" stroke="#0000ff" stroke-width="1.15"/><line x1="454.5" y1="301.4" x2="454.5" y2="325.4" stroke="#0000ff" stroke-width="1.15"/><line x1="494.5" y1="321.8" x2="494.5" y2="341.8" stroke="#0000ff" stroke-width="1.15"/><line x1="533.5" y1="302.9" x2="533.5" y2="346.9" stroke="#0000ff" stroke-width="1.15"/><line x1="335.5" y1="291.3" x2="335.5" y2="311.3" stroke="#ff0000" stroke-width="1.15"/><line x1="374.5" y1="281.5" x2="374.5" y2="311.5" stroke="#ff0000" stroke-width="1.15"/><line x1="414.5" y1="283.7" x2="414.5" y2="321.7" stroke="#ff0000" stroke-width="1.15"/><line x1="454.5" y1="303.2" x2="454.5" y2="342.4" stroke="#ff0000" stroke-width="1.15"/><line x1="494.5" y1="326.3" x2="494.5" y2="354.3" stroke="#ff0000" stroke-width="1.15"/><line x1="533.5" y1="312.2" x2="533.5" y2="324.2" stroke="#ff0000" stroke-width="1.15"/><line x1="335.5" y1="294.2" x2="335.5" y2="318.2" stroke="#088a10" stroke-width="1.15"/><line x1="374.5" y1="305.2" x2="374.5" y2="343.2" stroke="#088a10" stroke-width="1.15"/><line x1="414.5" y1="277.5" x2="414.5" y2="301.5" stroke="#088a10" stroke-width="1.15"/><line x1="454.5" y1="300.8" x2="454.5" y2="324.8" stroke="#088a10" stroke-width="1.15"/><line x1="494.5" y1="315.9" x2="494.5" y2="339.9" stroke="#088a10" stroke-width="1.15"/><line x1="533.5" y1="293.9" x2="533.5" y2="337.9" stroke="#088a10" stroke-width="1.15"/><line x1="335.5" y1="312.6" x2="335.5" y2="334.6" stroke="#b440b4" stroke-width="1.15"/><line x1="374.5" y1="308.9" x2="374.5" y2="340.9" stroke="#b440b4" stroke-width="1.15"/><line x1="414.5" y1="288.5" x2="414.5" y2="308.5" stroke="#b440b4" stroke-width="1.15"/><line x1="454.5" y1="316" x2="454.5" y2="338" stroke="#b440b4" stroke-width="1.15"/><line x1="494.5" y1="321" x2="494.5" y2="345" stroke="#b440b4" stroke-width="1.15"/><line x1="533.5" y1="307.4" x2="533.5" y2="331.4" stroke="#b440b4" stroke-width="1.15"/><line x1="335.5" y1="235.7" x2="335.5" y2="280.7" stroke="#0000ff" stroke-width="1.15"/><line x1="374.5" y1="206.7" x2="374.5" y2="231.1" stroke="#0000ff" stroke-width="1.15"/><line x1="414.5" y1="223.5" x2="414.5" y2="264.5" stroke="#0000ff" stroke-width="1.15"/><line x1="454.5" y1="279.2" x2="454.5" y2="299.2" stroke="#0000ff" stroke-width="1.15"/><line x1="494.5" y1="225.6" x2="494.5" y2="275.6" stroke="#0000ff" stroke-width="1.15"/><line x1="533.5" y1="304.5" x2="533.5" y2="324.5" stroke="#0000ff" stroke-width="1.15"/><line x1="335.5" y1="240" x2="335.5" y2="276.4" stroke="#ff0000" stroke-width="1.15"/><line x1="374.5" y1="236.6" x2="374.5" y2="260.6" stroke="#ff0000" stroke-width="1.15"/><line x1="414.5" y1="266.9" x2="414.5" y2="296.9" stroke="#ff0000" stroke-width="1.15"/><line x1="454.5" y1="286.6" x2="454.5" y2="310.6" stroke="#ff0000" stroke-width="1.15"/><line x1="494.5" y1="257.8" x2="494.5" y2="305.8" stroke="#ff0000" stroke-width="1.15"/><line x1="533.5" y1="294.2" x2="533.5" y2="334.2" stroke="#ff0000" stroke-width="1.15"/><line x1="335.5" y1="245.4" x2="335.5" y2="296.4" stroke="#088a10" stroke-width="1.15"/><line x1="374.5" y1="220.7" x2="374.5" y2="270.7" stroke="#088a10" stroke-width="1.15"/><line x1="414.5" y1="239.8" x2="414.5" y2="260.8" stroke="#088a10" stroke-width="1.15"/><line x1="454.5" y1="260.2" x2="454.5" y2="310.2" stroke="#088a10" stroke-width="1.15"/><line x1="494.5" y1="256.4" x2="494.5" y2="280.4" stroke="#088a10" stroke-width="1.15"/><line x1="533.5" y1="305.4" x2="533.5" y2="327.4" stroke="#088a10" stroke-width="1.15"/><line x1="335.5" y1="318.7" x2="335.5" y2="340.7" stroke="#951f95" stroke-width="1.15"/><line x1="374.5" y1="285.7" x2="374.5" y2="305.7" stroke="#951f95" stroke-width="1.15"/><line x1="414.5" y1="317.8" x2="414.5" y2="339.8" stroke="#951f95" stroke-width="1.15"/><line x1="454.5" y1="293.9" x2="454.5" y2="337.9" stroke="#951f95" stroke-width="1.15"/><line x1="494.5" y1="305.2" x2="494.5" y2="325.2" stroke="#951f95" stroke-width="1.15"/><line x1="533.5" y1="305.2" x2="533.5" y2="333.2" stroke="#951f95" stroke-width="1.15"/><polyline points="335.24,317.8 374.94,320.8 414.64,279.6 454.34,313.4 494.04,331.8 533.74,324.9" fill="none" stroke="#0000ff" stroke-width="1.25" stroke-linejoin="round"/><circle cx="335.24" cy="317.8" r="1.8" fill="none" stroke="#0000ff" stroke-width="1.3"/><circle cx="374.94" cy="320.8" r="1.8" fill="none" stroke="#0000ff" stroke-width="1.3"/><circle cx="414.64" cy="279.6" r="1.8" fill="none" stroke="#0000ff" stroke-width="1.3"/><circle cx="454.34" cy="313.4" r="1.8" fill="none" stroke="#0000ff" stroke-width="1.3"/><circle cx="494.04" cy="331.8" r="1.8" fill="none" stroke="#0000ff" stroke-width="1.3"/><circle cx="533.74" cy="324.9" r="1.8" fill="none" stroke="#0000ff" stroke-width="1.3"/><polyline points="335.24,301.3 374.94,296.5 414.64,302.7 454.34,322.8 494.04,340.3 533.74,318.2" fill="none" stroke="#ff0000" stroke-width="1.25" stroke-linejoin="round"/><circle cx="335.24" cy="301.3" r="1.8" fill="none" stroke="#ff0000" stroke-width="1.3"/><circle cx="374.94" cy="296.5" r="1.8" fill="none" stroke="#ff0000" stroke-width="1.3"/><circle cx="414.64" cy="302.7" r="1.8" fill="none" stroke="#ff0000" stroke-width="1.3"/><circle cx="454.34" cy="322.8" r="1.8" fill="none" stroke="#ff0000" stroke-width="1.3"/><circle cx="494.04" cy="340.3" r="1.8" fill="none" stroke="#ff0000" stroke-width="1.3"/><circle cx="533.74" cy="318.2" r="1.8" fill="none" stroke="#ff0000" stroke-width="1.3"/><polyline points="335.24,306.2 374.94,324.2 414.64,289.5 454.34,312.8 494.04,327.9 533.74,315.9" fill="none" stroke="#088a10" stroke-width="1.25" stroke-linejoin="round"/><circle cx="335.24" cy="306.2" r="1.8" fill="none" stroke="#088a10" stroke-width="1.3"/><circle cx="374.94" cy="324.2" r="1.8" fill="none" stroke="#088a10" stroke-width="1.3"/><circle cx="414.64" cy="289.5" r="1.8" fill="none" stroke="#088a10" stroke-width="1.3"/><circle cx="454.34" cy="312.8" r="1.8" fill="none" stroke="#088a10" stroke-width="1.3"/><circle cx="494.04" cy="327.9" r="1.8" fill="none" stroke="#088a10" stroke-width="1.3"/><circle cx="533.74" cy="315.9" r="1.8" fill="none" stroke="#088a10" stroke-width="1.3"/><polyline points="335.24,323.6 374.94,324.9 414.64,298.5 454.34,327 494.04,333 533.74,319.4" fill="none" stroke="#b440b4" stroke-width="1.25" stroke-linejoin="round"/><circle cx="335.24" cy="323.6" r="1.8" fill="none" stroke="#b440b4" stroke-width="1.3"/><circle cx="374.94" cy="324.9" r="1.8" fill="none" stroke="#b440b4" stroke-width="1.3"/><circle cx="414.64" cy="298.5" r="1.8" fill="none" stroke="#b440b4" stroke-width="1.3"/><circle cx="454.34" cy="327" r="1.8" fill="none" stroke="#b440b4" stroke-width="1.3"/><circle cx="494.04" cy="333" r="1.8" fill="none" stroke="#b440b4" stroke-width="1.3"/><circle cx="533.74" cy="319.4" r="1.8" fill="none" stroke="#b440b4" stroke-width="1.3"/><polyline points="335.24,258.2 374.94,218.9 414.64,244 454.34,289.2 494.04,250.6 533.74,314.5" fill="none" stroke="#0000ff" stroke-width="1.25" stroke-linejoin="round"/><circle cx="335.24" cy="258.2" r="2.3" fill="#0000ff"/><circle cx="374.94" cy="218.9" r="2.3" fill="#0000ff"/><circle cx="414.64" cy="244" r="2.3" fill="#0000ff"/><circle cx="454.34" cy="289.2" r="2.3" fill="#0000ff"/><circle cx="494.04" cy="250.6" r="2.3" fill="#0000ff"/><circle cx="533.74" cy="314.5" r="2.3" fill="#0000ff"/><polyline points="335.24,258.2 374.94,248.6 414.64,281.9 454.34,298.6 494.04,281.8 533.74,314.2" fill="none" stroke="#ff0000" stroke-width="1.25" stroke-linejoin="round"/><circle cx="335.24" cy="258.2" r="2.3" fill="#ff0000"/><circle cx="374.94" cy="248.6" r="2.3" fill="#ff0000"/><circle cx="414.64" cy="281.9" r="2.3" fill="#ff0000"/><circle cx="454.34" cy="298.6" r="2.3" fill="#ff0000"/><circle cx="494.04" cy="281.8" r="2.3" fill="#ff0000"/><circle cx="533.74" cy="314.2" r="2.3" fill="#ff0000"/><polyline points="335.24,270.9 374.94,245.7 414.64,250.3 454.34,285.2 494.04,268.4 533.74,316.4" fill="none" stroke="#088a10" stroke-width="1.25" stroke-linejoin="round"/><circle cx="335.24" cy="270.9" r="2.3" fill="#088a10"/><circle cx="374.94" cy="245.7" r="2.3" fill="#088a10"/><circle cx="414.64" cy="250.3" r="2.3" fill="#088a10"/><circle cx="454.34" cy="285.2" r="2.3" fill="#088a10"/><circle cx="494.04" cy="268.4" r="2.3" fill="#088a10"/><circle cx="533.74" cy="316.4" r="2.3" fill="#088a10"/><polyline points="335.24,329.7 374.94,295.7 414.64,328.8 454.34,315.9 494.04,315.2 533.74,319.2" fill="none" stroke="#951f95" stroke-width="1.25" stroke-linejoin="round"/><circle cx="335.24" cy="329.7" r="2.3" fill="#951f95"/><circle cx="374.94" cy="295.7" r="2.3" fill="#951f95"/><circle cx="414.64" cy="328.8" r="2.3" fill="#951f95"/><circle cx="454.34" cy="315.9" r="2.3" fill="#951f95"/><circle cx="494.04" cy="315.2" r="2.3" fill="#951f95"/><circle cx="533.74" cy="319.2" r="2.3" fill="#951f95"/></g>
<rect x="325" y="199.86" width="219" height="163.02" fill="none" stroke="#939393" stroke-width="1.5"/>
<line x1="335.24" y1="362.88" x2="335.24" y2="365.28" stroke="#4a4a4a" stroke-width="1.1"/>
<text x="335.24" y="372.38" font-size="6.6" fill="#262626" text-anchor="middle" textLength="4.0" lengthAdjust="spacingAndGlyphs">0</text>
<line x1="374.94" y1="362.88" x2="374.94" y2="365.28" stroke="#4a4a4a" stroke-width="1.1"/>
<text x="374.94" y="372.38" font-size="6.6" fill="#262626" text-anchor="middle" textLength="4.0" lengthAdjust="spacingAndGlyphs">1</text>
<line x1="414.64" y1="362.88" x2="414.64" y2="365.28" stroke="#4a4a4a" stroke-width="1.1"/>
<text x="414.64" y="372.38" font-size="6.6" fill="#262626" text-anchor="middle" textLength="4.0" lengthAdjust="spacingAndGlyphs">2</text>
<line x1="454.34" y1="362.88" x2="454.34" y2="365.28" stroke="#4a4a4a" stroke-width="1.1"/>
<text x="454.34" y="372.38" font-size="6.6" fill="#262626" text-anchor="middle" textLength="4.0" lengthAdjust="spacingAndGlyphs">3</text>
<line x1="494.04" y1="362.88" x2="494.04" y2="365.28" stroke="#4a4a4a" stroke-width="1.1"/>
<text x="494.04" y="372.38" font-size="6.6" fill="#262626" text-anchor="middle" textLength="4.0" lengthAdjust="spacingAndGlyphs">4</text>
<line x1="533.74" y1="362.88" x2="533.74" y2="365.28" stroke="#4a4a4a" stroke-width="1.1"/>
<text x="533.74" y="372.38" font-size="6.6" fill="#262626" text-anchor="middle" textLength="4.0" lengthAdjust="spacingAndGlyphs">5</text>
<line x1="322.6" y1="338.99" x2="325" y2="338.99" stroke="#4a4a4a" stroke-width="1.1"/>
<text x="319.9" y="341.39" font-size="6.6" fill="#262626" text-anchor="end" textLength="6.6" lengthAdjust="spacingAndGlyphs">50</text>
<line x1="322.6" y1="304.24" x2="325" y2="304.24" stroke="#4a4a4a" stroke-width="1.1"/>
<text x="319.9" y="306.64" font-size="6.6" fill="#262626" text-anchor="end" textLength="9.9" lengthAdjust="spacingAndGlyphs">100</text>
<line x1="322.6" y1="269.49" x2="325" y2="269.49" stroke="#4a4a4a" stroke-width="1.1"/>
<text x="319.9" y="271.89" font-size="6.6" fill="#262626" text-anchor="end" textLength="9.9" lengthAdjust="spacingAndGlyphs">150</text>
<line x1="322.6" y1="234.74" x2="325" y2="234.74" stroke="#4a4a4a" stroke-width="1.1"/>
<text x="319.9" y="237.14" font-size="6.6" fill="#262626" text-anchor="end" textLength="9.9" lengthAdjust="spacingAndGlyphs">200</text>
<line x1="322.6" y1="199.99" x2="325" y2="199.99" stroke="#4a4a4a" stroke-width="1.1"/>
<text x="319.9" y="202.39" font-size="6.6" fill="#262626" text-anchor="end" textLength="9.9" lengthAdjust="spacingAndGlyphs">250</text>
<text x="434.5" y="380.88" font-size="6.7" fill="#262626" text-anchor="middle" textLength="37.6" lengthAdjust="spacingAndGlyphs">Offset (mm)</text>
<text transform="translate(304.6,280.97) rotate(-90)" font-size="6.2" fill="#262626" text-anchor="middle" textLength="43.4" lengthAdjust="spacingAndGlyphs">Intensity (a.u.)</text>
<text transform="translate(308.35,378.5) scale(0.9,1)" font-size="15.2" fill="#111" style="stroke:#111;stroke-width:0.35px">(<tspan font-size="14" dx="0.8">d</tspan><tspan dx="2.2">)</tspan></text>
</svg></body></html>
